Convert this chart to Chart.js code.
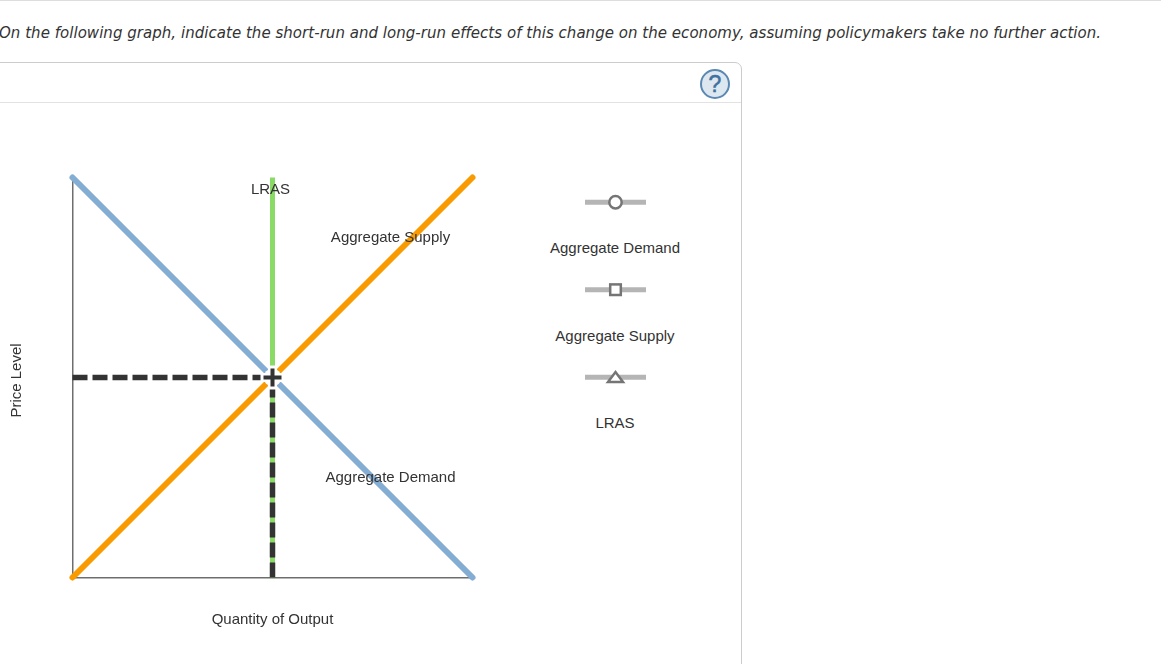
<!DOCTYPE html>
<html>
<head>
<meta charset="utf-8">
<title>Aggregate demand and supply</title>
<script src="https://cdn.jsdelivr.net/npm/chart.js@4"></script>
<style>
  html, body { margin: 0; padding: 0; background: #fff; width: 1161px; height: 664px; overflow: hidden; }
  #topRule { position: absolute; left: 0; top: 0; width: 1161px; height: 1px; background: #ddd; }
  #prompt { position: absolute; left: -1px; top: 24px; white-space: nowrap; font: italic 15px "DejaVu Sans", sans-serif; letter-spacing: 0.035px; color: #333; }
  #panel { position: absolute; left: -8px; top: 62px; width: 748px; height: 640px; border: 1px solid #ccc; border-radius: 7px; }
  #panelHead { position: absolute; left: 0; top: 39px; width: 748px; height: 1px; background: #e2e2e2; }
  #help { position: absolute; left: 700px; top: 69px; width: 26px; height: 26px; border: 2px solid #5b88b2; border-radius: 50%; background: #dde7f0; color: #3f709f; font: 23px/27px "Liberation Sans", sans-serif; text-align: center; -webkit-text-stroke: 0.5px #3f709f; }
  #chart { position: absolute; left: 0; top: 0; }
  .tool { position: absolute; left: 585px; width: 61px; height: 20px; }
  .toolName { position: absolute; left: 515px; width: 200px; text-align: center; font: 15px "Liberation Sans", sans-serif; color: #333; }
</style>
</head>
<body>
<div id="topRule"></div>
<div id="prompt">On the following graph, indicate the short-run and long-run effects of this change on the economy, assuming policymakers take no further action.</div>
<div id="panel"><div id="panelHead"></div></div>
<div id="help">?</div>

<svg class="tool" style="top:192px" viewBox="0 0 61 20"><line x1="0" y1="10.3" x2="61" y2="10.3" stroke="#b5b5b5" stroke-width="5"/><circle cx="30.5" cy="10.3" r="6.2" fill="#fff" stroke="#757575" stroke-width="2.5"/></svg>
<div class="toolName" style="top:239px">Aggregate Demand</div>
<svg class="tool" style="top:280px" viewBox="0 0 61 20"><line x1="0" y1="9.7" x2="61" y2="9.7" stroke="#b5b5b5" stroke-width="5"/><rect x="25.2" y="4.4" width="10.6" height="10.6" fill="#fff" stroke="#757575" stroke-width="2.5"/></svg>
<div class="toolName" style="top:327px">Aggregate Supply</div>
<svg class="tool" style="top:367px" viewBox="0 0 61 20"><line x1="0" y1="10.3" x2="61" y2="10.3" stroke="#b5b5b5" stroke-width="5"/><path d="M30.5 5 L38 15 L23 15 Z" fill="#fff" stroke="#757575" stroke-width="2.5"/></svg>
<div class="toolName" style="top:414px">LRAS</div>

<canvas id="chart" width="1161" height="664"></canvas>

<script>
// curves, in axis units (0-100 on both axes)
const demandX = [0, 100];
const demandY = [100, 0];
const supplyX = [0, 100];
const supplyY = [0, 100];
const lrasX = [50, 50];
const lrasY = [0, 100];
const priceGuideX = [0, 50];
const priceGuideY = [50, 50];
const outputGuideX = [50, 50];
const outputGuideY = [0, 50];
const equilibriumX = [50];
const equilibriumY = [50];

// curve captions sitting on the plot
const captionText = ['LRAS', 'Aggregate Supply', 'Aggregate Demand'];
const captionX = [49.5, 79.5, 79.5];
const captionY = [97, 85, 25];

function toPoints(xs, ys) {
    return xs.map(function(x, i) { return { x: x, y: ys[i] }; });
}

function curve(label, xs, ys, color, width) {
    return {
        label: label,
        data: toPoints(xs, ys),
        showLine: true,
        borderColor: color,
        borderWidth: width,
        borderCapStyle: 'round',
        pointRadius: 0,
        clip: false
    };
}

const plotLeft = 72.5, plotRight = 472.5, plotTop = 177.5, plotBottom = 577.5;
const labelFont = '15px "Liberation Sans", sans-serif';

// caption text goes on top of everything else
const captionPlugin = {
    id: 'captions',
    afterDatasetsDraw: function(chart) {
        const ctx = chart.ctx;
        ctx.save();
        ctx.font = labelFont;
        ctx.fillStyle = '#333';
        ctx.textAlign = 'center';
        ctx.textBaseline = 'middle';
        captionText.forEach(function(text, i) {
            ctx.fillText(text, chart.scales.x.getPixelForValue(captionX[i]), chart.scales.y.getPixelForValue(captionY[i]));
        });
        // y axis name sits a little below the middle of the axis
        ctx.translate(16.5, 380.5);
        ctx.rotate(-Math.PI / 2);
        ctx.fillText('Price Level', 0, 0);
        ctx.restore();
    }
};

new Chart(document.getElementById('chart').getContext('2d'), {
    type: 'scatter',
    plugins: [captionPlugin],
    data: {
        datasets: [
            // first dataset is drawn on top
            {
                label: 'Equilibrium',
                data: toPoints(equilibriumX, equilibriumY),
                pointStyle: 'cross',
                pointRadius: 9,
                pointBorderWidth: 4,
                pointBorderColor: '#333',
                clip: false
            },
            {
                label: 'Equilibrium halo arms',
                data: toPoints(equilibriumX, equilibriumY),
                pointStyle: 'cross',
                pointRadius: 12,
                pointBorderWidth: 9,
                pointBorderColor: '#fff',
                clip: false
            },
            {
                label: 'Equilibrium halo',
                data: toPoints(equilibriumX, equilibriumY),
                pointStyle: 'circle',
                pointRadius: 9,
                pointBorderWidth: 0,
                pointBackgroundColor: '#fff',
                clip: false
            },
            {
                label: 'Price guide',
                data: toPoints(priceGuideX, priceGuideY),
                showLine: true,
                borderColor: '#333',
                borderWidth: 5.5,
                borderDash: [15, 5],
                pointRadius: 0,
                clip: false
            },
            {
                label: 'Output guide',
                data: toPoints(outputGuideX, outputGuideY),
                showLine: true,
                borderColor: '#333',
                borderWidth: 5.5,
                borderDash: [15, 5],
                pointRadius: 0,
                clip: false
            },
            curve('Aggregate Demand', demandX, demandY, '#84add3', 6),
            curve('Aggregate Supply', supplyX, supplyY, '#f99a00', 6),
            Object.assign(curve('LRAS', lrasX, lrasY, '#8ada66', 5), { borderCapStyle: 'butt' })
        ]
    },
    options: {
        responsive: false,
        animation: false,
        events: [],
        layout: { padding: { left: 0, top: plotTop, right: 1161 - plotRight, bottom: 0 } },
        plugins: { legend: { display: false }, tooltip: { enabled: false } },
        scales: {
            x: {
                type: 'linear', min: 0, max: 100,
                grid: { display: false },
                border: { color: '#6e6e6e', width: 1.5 },
                ticks: { display: false },
                title: { display: true, text: 'Quantity of Output', color: '#333', font: { family: '"Liberation Sans", sans-serif', size: 15 }, padding: { top: 0, bottom: 35 } },
                afterFit: function(scale) { scale.height = 664 - plotBottom; }
            },
            y: {
                type: 'linear', min: 0, max: 100,
                grid: { display: false },
                border: { color: '#6e6e6e', width: 1.5 },
                ticks: { display: false },
                afterFit: function(scale) { scale.width = plotLeft; }
            }
        }
    }
});
</script>
</body>
</html>
